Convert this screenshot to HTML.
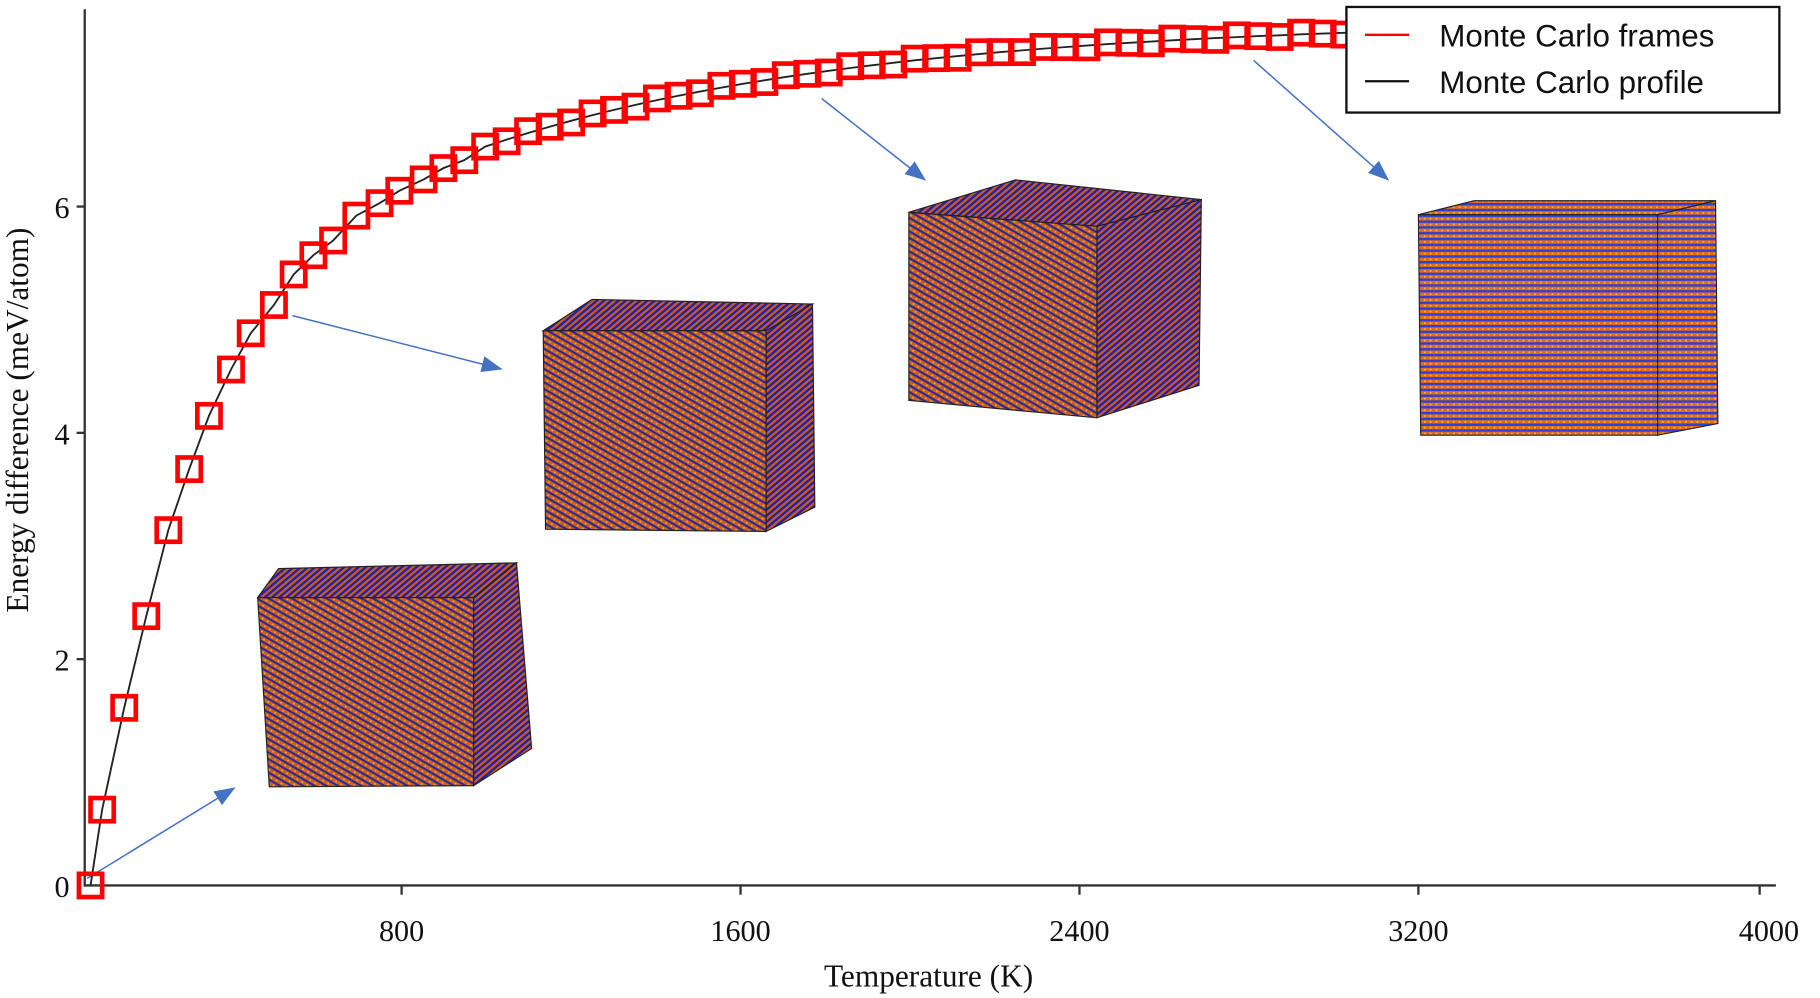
<!DOCTYPE html>
<html><head><meta charset="utf-8"><style>
html,body{margin:0;padding:0;background:#fff;}
svg{display:block}
</style></head><body>
<svg id="s" width="1820" height="998" viewBox="0 0 1568 860" preserveAspectRatio="none" xmlns="http://www.w3.org/2000/svg">
<defs>
<pattern id="pf" width="5" height="5" patternUnits="userSpaceOnUse" patternTransform="rotate(30)">
<rect width="5" height="5" fill="#cc6020"/>
<rect y="0" width="5" height="1.8" fill="#2a2a9a"/>
<circle cx="2.5" cy="3.4" r="0.8" fill="#f0b030"/>
</pattern>
<pattern id="ps" width="4" height="4" patternUnits="userSpaceOnUse" patternTransform="rotate(-40)">
<rect width="4" height="4" fill="#c85a22"/>
<rect width="4" height="2" fill="#2020a8"/>
</pattern>
<pattern id="pb" width="5" height="5" patternUnits="userSpaceOnUse">
<rect width="5" height="5" fill="#e06a1e"/>
<rect width="5" height="2" fill="#2b3ee0"/>
<circle cx="2.5" cy="3.5" r="0.8" fill="#f3c040"/>
</pattern>
<marker id="ah2" markerWidth="18" markerHeight="14" refX="17" refY="7" orient="auto" markerUnits="userSpaceOnUse"><path d="M0,0 L18,7 L0,14 z" fill="#4472c4"/></marker>
</defs>
<g stroke="#222" stroke-width="1">
<polygon points="222,515 240,490 445,485 408,515" fill="url(#ps)"/>
<polygon points="408,515 445,485 458,645 408,677" fill="url(#ps)"/>
<polygon points="222,515 408,515 408,677 232,678" fill="url(#pf)"/>
<polygon points="468,285 510,258 700,262 660,285" fill="url(#ps)"/>
<polygon points="660,285 700,262 702,437 660,458" fill="url(#ps)"/>
<polygon points="468,285 660,285 660,458 470,456" fill="url(#pf)"/>
<polygon points="783,183 875,155 1035,172 945,195" fill="url(#ps)"/>
<polygon points="945,195 1035,172 1033,332 945,360" fill="url(#ps)"/>
<polygon points="783,183 945,195 945,360 783,345" fill="url(#pf)"/>
<polygon points="1222,185 1270,173 1478,173 1428,185" fill="url(#pb)"/>
<polygon points="1428,185 1478,173 1480,365 1428,375" fill="url(#pb)"/>
<polygon points="1222,185 1428,185 1428,375 1224,375" fill="url(#pb)"/>
</g>
<g stroke="#4472c4" stroke-width="1.3" fill="none">
<line x1="75" y1="757" x2="202" y2="679" marker-end="url(#ah2)"/>
<line x1="252" y1="272" x2="432" y2="318" marker-end="url(#ah2)"/>
<line x1="708" y1="85" x2="797" y2="155" marker-end="url(#ah2)"/>
<line x1="1080" y1="52" x2="1196" y2="155" marker-end="url(#ah2)"/>
</g>
<g stroke="#333" stroke-width="2" fill="none">
<line x1="73" y1="8" x2="73" y2="764"/>
<line x1="72" y1="763" x2="1530" y2="763"/>
<line x1="346" y1="763" x2="346" y2="771"/>
<line x1="638" y1="763" x2="638" y2="771"/>
<line x1="930" y1="763" x2="930" y2="771"/>
<line x1="1222" y1="763" x2="1222" y2="771"/>
<line x1="1516" y1="763" x2="1516" y2="771"/>
<line x1="66" y1="568" x2="73" y2="568"/>
<line x1="66" y1="373" x2="73" y2="373"/>
<line x1="66" y1="178" x2="73" y2="178"/>
</g>
<g font-family="Liberation Serif, serif" font-size="26" fill="#111">
<text x="346" y="811" text-anchor="middle">800</text>
<text x="638" y="811" text-anchor="middle">1600</text>
<text x="930" y="811" text-anchor="middle">2400</text>
<text x="1222" y="811" text-anchor="middle">3200</text>
<text x="1524" y="811" text-anchor="middle">4000</text>
<text x="60" y="773" text-anchor="end">0</text>
<text x="60" y="578" text-anchor="end">2</text>
<text x="60" y="383" text-anchor="end">4</text>
<text x="60" y="188" text-anchor="end">6</text>
<text x="800" y="850" text-anchor="middle" font-size="27">Temperature  (K)</text>
<text transform="translate(24,362) rotate(-90)" text-anchor="middle" font-size="27">Energy difference (meV/atom)</text>
</g>
<g id="series"></g>
<rect x="1160" y="6" width="373" height="91" fill="#fff" stroke="#111" stroke-width="2"/>
<line x1="1176" y1="30" x2="1214" y2="30" stroke="#f00" stroke-width="2"/>
<line x1="1176" y1="70" x2="1214" y2="70" stroke="#111" stroke-width="2"/>
<g font-family="Liberation Sans, sans-serif" font-size="27" fill="#111">
<text x="1240" y="40">Monte Carlo frames</text>
<text x="1240" y="80">Monte Carlo profile</text>
</g>
</svg>
<script>
var early=[0,.67,1.57,2.38,3.14,3.68,4.15,4.56,4.88,5.13,5.4,5.57,5.7,5.92,6.03,6.14,6.24,6.34,6.41,6.53];
var ex=[78,88,107,126,145,163,180,199,216,236,253,270,287,307,327,344,365,382,400,418];
function E(k){ if(k<early.length) return early[k]; var T=50*k+50; return 7.65-1.12*Math.exp(-(T-1000)/877); }
function X(k){ return k<ex.length?ex[k]:418+18.5*(k-19); }
function Y(e){ return 763-97.5*e; }
var g=document.getElementById('series'), ns='http://www.w3.org/2000/svg';
var pts=[],k;
for(k=0;k<=62;k++){pts.push(X(k).toFixed(1)+','+Y(E(k)).toFixed(1));}
var pl=document.createElementNS(ns,'polyline');
pl.setAttribute('points',pts.join(' '));pl.setAttribute('fill','none');pl.setAttribute('stroke','#222');pl.setAttribute('stroke-width','1.6');
g.appendChild(pl);
for(k=0;k<=62;k++){
 var x=X(k),y=Y(E(k))+(k>19?((k*7)%3-1)*1.5:0);
 if(x>1160) break;
 var r=document.createElementNS(ns,'rect');
 r.setAttribute('x',x-10);r.setAttribute('y',y-10);r.setAttribute('width',20);r.setAttribute('height',20);
 r.setAttribute('fill','none');r.setAttribute('stroke','#f00');r.setAttribute('stroke-width','4');
 g.appendChild(r);
}
</script>
</body></html>
